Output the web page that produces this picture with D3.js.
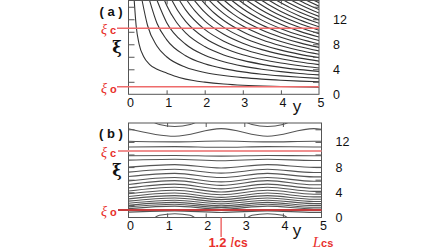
<!DOCTYPE html>
<html><head><meta charset="utf-8">
<script src="https://cdn.jsdelivr.net/npm/d3@7"></script>
<style>body{margin:0;background:#fff}svg{display:block}</style>
</head><body><svg id="c" width="448" height="252"></svg>
<script>
// ---------- data ----------
const xTickValues = [0, 1, 2, 3, 4, 5];
const yTickMarks = [2, 4, 6, 8, 10, 12, 14];
const yTickLabels = [0, 4, 8, 12];
const xiC = 10.55;
const xiO = 1.2;
const markY = 2.4;           // 1.2 lcs marker position on y axis

// panel (a): level curves, [y, xi] points
const curveA00 = [[0.15,15],[0.2,11],[0.28,8],[0.4,6],[0.55,4.8],[0.75,4.0],[1,3.4],[1.33,2.7],[1.7,2.2],[2,1.95],[2.5,1.65],[3,1.45],[4,1.25],[5,1.12]];
const curveA01 = [[0.357,15],[0.5,11],[0.75,7.67],[1,6],[1.5,4.33],[2,3.5],[2.5,3],[3,2.67],[3.5,2.43],[4,2.25],[4.5,2.11],[5,2]];
const curveA02 = [[0.554,15],[0.75,11.33],[1,8.75],[1.5,6.17],[2,4.88],[2.5,4.1],[3,3.58],[3.5,3.21],[4,2.94],[4.5,2.72],[5,2.55]];
const curveA03 = [[0.75,15],[1,11.5],[1.5,8],[2,6.25],[2.5,5.2],[3,4.5],[3.5,4],[4,3.63],[4.5,3.33],[5,3.1]];
const curveA04 = [[0.946,15],[1,14.25],[1.25,11.6],[1.5,9.83],[2,7.63],[2.5,6.3],[3,5.42],[3.5,4.79],[4,4.31],[4.5,3.94],[5,3.65]];
const curveA05 = [[1.143,15],[1.3,13.31],[1.5,11.67],[2,9],[2.5,7.4],[3,6.33],[3.5,5.57],[4,5],[4.5,4.56],[5,4.2]];
const curveA06 = [[1.339,15],[1.5,13.5],[2,10.38],[2.5,8.5],[3,7.25],[3.5,6.36],[4,5.69],[4.5,5.17],[5,4.75]];
const curveA07 = [[1.536,15],[1.75,13.29],[2,11.75],[2.5,9.6],[3,8.17],[3.5,7.14],[4,6.38],[4.5,5.78],[5,5.3]];
const curveA08 = [[1.732,15],[2,13.13],[2.5,10.7],[3,9.08],[3.5,7.93],[4,7.06],[4.5,6.39],[5,5.85]];
const curveA09 = [[1.929,15],[2.25,13],[2.5,11.8],[3,10],[3.5,8.71],[4,7.75],[4.5,7],[5,6.4]];
const curveA10 = [[2.125,15],[2.3,13.93],[2.5,12.9],[3,10.92],[3.5,9.5],[4,8.44],[4.5,7.61],[5,6.95]];
const curveA11 = [[2.321,15],[2.5,14],[2.75,12.82],[3,11.83],[3.5,10.29],[4,9.13],[4.5,8.22],[5,7.5]];
const curveA12 = [[2.518,15],[2.75,13.82],[3,12.75],[3.5,11.07],[4,9.81],[4.5,8.83],[5,8.05]];
const curveA13 = [[2.714,15],[3,13.67],[3.5,11.86],[4,10.5],[4.5,9.44],[5,8.6]];
const curveA14 = [[2.911,15],[3.25,13.54],[3.5,12.64],[4,11.19],[4.5,10.06],[5,9.15]];
const curveA15 = [[3.107,15],[3.5,13.43],[4,11.88],[4.5,10.67],[5,9.7]];
const curveA16 = [[3.304,15],[3.75,13.33],[4,12.56],[4.5,11.28],[5,10.25]];
const curveA17 = [[3.5,15],[3.75,14.07],[4,13.25],[4.5,11.89],[5,10.8]];
const curveA18 = [[3.696,15],[4,13.94],[4.5,12.5],[5,11.35]];
const curveA19 = [[3.893,15],[4.25,13.82],[4.5,13.11],[5,11.9]];
const curveA20 = [[4.089,15],[4.25,14.47],[4.5,13.72],[5,12.45]];
const curveA21 = [[4.286,15],[4.75,13.63],[5,13]];
const curveA22 = [[4.482,15],[4.75,14.21],[5,13.55]];
const curveA23 = [[4.679,15],[5,14.1]];
const curveA24 = [[4.875,15],[5,14.65]];
const curvesA = [curveA00,curveA01,curveA02,curveA03,curveA04,curveA05,curveA06,curveA07,curveA08,curveA09,curveA10,curveA11,curveA12,curveA13,curveA14,curveA15,curveA16,curveA17,curveA18,curveA19,curveA20,curveA21,curveA22,curveA23,curveA24];

// panel (b): wavy lines, xi at these y positions
const yB = [0, 1.2, 2.4, 3.6, 4.8, 5.0];
const linesB = [
  [14.1, 12.9, 14.1, 12.9, 14.1, 14.0],
  [12.1, 12.0, 12.15, 12.0, 12.1, 12.1],
  [11.2, 11.25, 11.15, 11.25, 11.2, 11.2],
  [9.8, 9.85, 9.75, 9.85, 9.8, 9.8],
  [9.1, 9.25, 9.0, 9.25, 9.05, 9.05],
  [8.0, 8.4, 7.85, 8.4, 7.95, 7.95],
  [7.2, 7.65, 7.05, 7.65, 7.15, 7.15],
  [6.5, 7.0, 6.35, 7.0, 6.45, 6.45],
  [5.8, 6.35, 5.65, 6.35, 5.75, 5.75],
  [5.25, 5.85, 5.1, 5.85, 5.2, 5.2],
  [4.7, 5.3, 4.55, 5.3, 4.65, 4.65],
  [4.2, 4.8, 4.05, 4.8, 4.15, 4.15],
  [3.76, 4.33, 3.62, 4.33, 3.7, 3.7],
  [3.33, 3.88, 3.2, 3.88, 3.28, 3.28],
  [2.96, 3.47, 2.84, 3.47, 2.9, 2.9],
  [2.6, 3.1, 2.5, 3.1, 2.55, 2.55],
  [2.27, 2.75, 2.17, 2.75, 2.2, 2.2],
  [1.95, 2.4, 1.85, 2.4, 1.9, 1.9],
  [1.68, 2.1, 1.58, 2.1, 1.62, 1.62],
  [1.41, 1.8, 1.32, 1.8, 1.36, 1.36],
  [0.85, 1.05, 0.8, 1.05, 0.82, 0.82]
];
const arcsB = [
  [[0.6,15.3],[0.8,14.75],[1.2,14.45],[1.6,14.75],[1.8,15.3]],
  [[3.0,15.3],[3.2,14.75],[3.6,14.45],[4.0,14.75],[4.2,15.3]],
  [[0.62,-0.3],[0.8,0.35],[1.2,0.6],[1.6,0.35],[1.78,-0.3]],
  [[3.02,-0.3],[3.2,0.35],[3.6,0.6],[4.0,0.35],[4.18,-0.3]]
];

// ---------- drawing ----------
const svg = d3.select("#c");
const RED = "#ee6b6b", TXT_RED = "#e8302c";
const sans = "'Liberation Sans', Arial, sans-serif";
const serif = "'Liberation Serif', 'Times New Roman', serif";

function panel(id, top, bottom, right, label) {
  const x = d3.scaleLinear().domain([0, 5]).range([128.5, right]);
  const y = d3.scaleLinear().domain([0, 15]).range([bottom, top]);
  const g = svg.append("g");
  g.append("clipPath").attr("id", "clip" + id).append("rect")
    .attr("x", x(0)).attr("y", y(15)).attr("width", x(5) - x(0)).attr("height", y(0) - y(15));
  const plot = g.append("g").attr("clip-path", `url(#clip${id})`);
  const ax = (gen, tx, ty) => {
    const a = g.append("g").attr("transform", `translate(${tx},${ty})`).call(gen);
    a.select(".domain").remove();
    a.selectAll("line").attr("stroke", "#555").attr("stroke-width", 1);
    return a;
  };
  ax(d3.axisLeft(y).tickValues(yTickMarks).tickSize(-6).tickFormat(""), x(0), 0);
  ax(d3.axisRight(y).tickValues(yTickMarks).tickSize(-6).tickFormat(""), x(5), 0);
  ax(d3.axisBottom(x).tickValues([1,2,3,4]).tickSize(-4).tickFormat(""), 0, y(0));
  ax(d3.axisTop(x).tickValues([1,2,3,4]).tickSize(-4).tickFormat(""), 0, y(15));
  const rl = g.append("g").attr("transform", `translate(${x(5)},0)`)
    .call(d3.axisRight(y).tickValues(yTickLabels).tickSize(0).tickPadding(14).tickFormat(d3.format("d")));
  rl.select(".domain").remove();
  rl.selectAll("text").attr("font-family", sans).attr("font-size", 12.5).attr("fill", "#111");
  const bl = g.append("g").attr("transform", `translate(1.5,${y(0)})`)
    .call(d3.axisBottom(x).tickValues(xTickValues).tickSize(0).tickPadding(4).tickFormat(d3.format("d")));
  bl.select(".domain").remove();
  bl.selectAll("text").attr("font-family", sans).attr("font-size", 12.5).attr("fill", "#111");
  g.append("rect").attr("x", x(0)).attr("y", y(15)).attr("width", x(5) - x(0)).attr("height", y(0) - y(15))
    .attr("fill", "none").attr("stroke", "#555").attr("stroke-width", 1);
  g.append("text").attr("x", 297).attr("y", y(0) + 18).attr("font-family", sans).attr("font-size", 17)
    .attr("fill", "#111").attr("text-anchor", "middle").text("y");
  g.append("text").attr("x", 117).attr("y", y(6.6)).attr("font-family", "'DejaVu Serif', serif").attr("font-size", 16)
    .attr("font-weight", "bold").attr("fill", "#111").attr("text-anchor", "middle").text("ξ");
  g.append("text").attr("x", 111).attr("y", y(15) + 15).attr("font-family", sans).attr("font-size", 13)
    .attr("font-weight", "bold").attr("fill", "#111").attr("text-anchor", "middle")
    .style("white-space", "pre").text(label);
  [[xiC, "c"], [xiO, "o"]].forEach(([v, s]) => {
    const t = g.append("text").attr("x", 101).attr("y", y(v) + 6).attr("fill", TXT_RED);
    t.append("tspan").attr("font-family", serif).attr("font-style", "italic").attr("font-size", 14).text("ξ");
    t.append("tspan").attr("font-family", sans).attr("font-weight", "bold").attr("font-size", 11).attr("dx", 3).text(s);
  });
  return {x, y, g, plot};
}

const line = (x, y) => d3.line().x(d => x(d[0])).y(d => y(d[1])).curve(d3.curveMonotoneX);

// panel (a)
const A = panel("a", 0.5, 94.3, 319, "( a )");
A.plot.selectAll("path.c").data(curvesA).join("path")
  .attr("d", line(A.x, A.y)).attr("fill", "none").attr("stroke", "#333").attr("stroke-width", 1.1);
[xiC, xiO].forEach(v => {
  A.g.append("line").attr("x1", 117).attr("x2", A.x(5)).attr("y1", A.y(v)).attr("y2", A.y(v))
    .attr("stroke", RED).attr("stroke-width", 1.5);
});

// panel (b)
const B = panel("b", 123, 217.5, 321.5, "( b )");
const lb = line(B.x, B.y);
B.plot.selectAll("path.w").data(linesB).join("path")
  .attr("d", d => lb(d.map((v, i) => [yB[i], v])))
  .attr("fill", "none").attr("stroke", "#555").attr("stroke-width", 1.1);
B.plot.selectAll("path.a").data(arcsB).join("path")
  .attr("d", d => lb(d)).attr("fill", "none").attr("stroke", "#555").attr("stroke-width", 1.1);
B.g.append("line").attr("x1", 118).attr("x2", B.x(5)).attr("y1", B.y(xiC)).attr("y2", B.y(xiC))
  .attr("stroke", "#f09090").attr("stroke-width", 2);
B.g.append("line").attr("x1", 118).attr("x2", B.x(5)).attr("y1", B.y(xiO)).attr("y2", B.y(xiO))
  .attr("stroke", "#c43c3c").attr("stroke-width", 2);

// annotations under panel (b)
B.g.append("line").attr("x1", B.x(markY)).attr("x2", B.x(markY)).attr("y1", B.y(0)).attr("y2", 237)
  .attr("stroke", RED).attr("stroke-width", 1.5);
const t1 = B.g.append("text").attr("x", 228).attr("y", 247).attr("text-anchor", "middle").attr("fill", TXT_RED);
t1.append("tspan").attr("font-family", sans).attr("font-weight", "bold").attr("font-size", 13).text("1.2 ");
t1.append("tspan").attr("font-family", serif).attr("font-style", "italic").attr("font-size", 15).text("l");
t1.append("tspan").attr("font-family", sans).attr("font-weight", "bold").attr("font-size", 12).text("cs");
const t2 = B.g.append("text").attr("x", 323).attr("y", 247).attr("text-anchor", "middle").attr("fill", TXT_RED);
t2.append("tspan").attr("font-family", serif).attr("font-style", "italic").attr("font-size", 15).text("L");
t2.append("tspan").attr("font-family", sans).attr("font-weight", "bold").attr("font-size", 11).text("cs");
</script></body></html>
